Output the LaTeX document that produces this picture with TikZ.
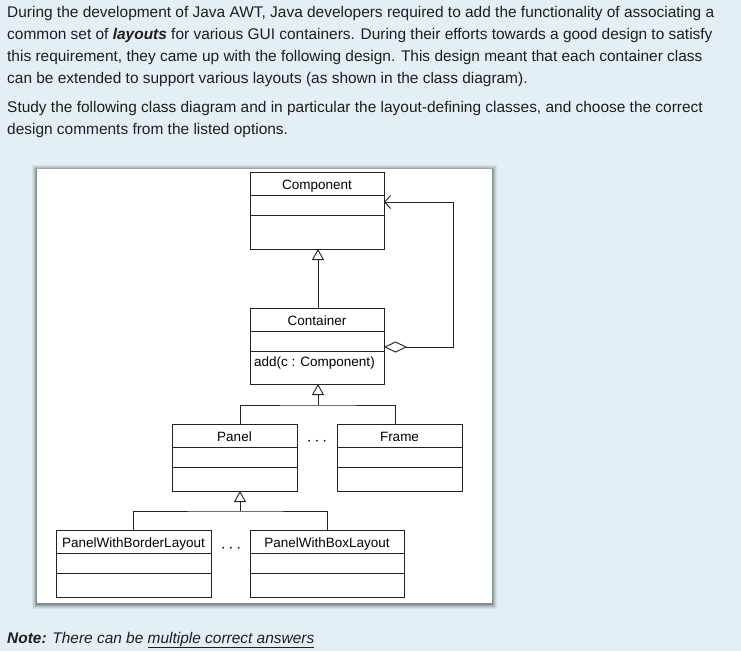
\documentclass[tikz,border=0pt]{standalone}
\usepackage{fontspec}
\setmainfont{Liberation Sans}
\usetikzlibrary{arrows.meta,shadows,calc}
\definecolor{bg}{HTML}{E3EFF5}
\definecolor{txt}{HTML}{1E1E1E}
\definecolor{ln}{HTML}{222222}
\begin{document}
\begin{tikzpicture}[x=1pt,y=-1pt,
  para/.style={anchor=base west,inner sep=0,text=txt,font=\fontsize{15.45}{17}\selectfont},
  cls/.style={draw=ln,line width=0.9pt,fill=white},
  lbl/.style={font=\fontsize{13.5}{14}\selectfont,inner sep=0,anchor=base},
  edge/.style={draw=ln,line width=0.9pt},
  gen/.style={edge,-{Triangle[open,width=12pt,length=11pt]}},
  dots/.style={font=\fontsize{16}{16}\selectfont,inner sep=0}]
\fill[bg] (0,0) rectangle (741,651);
\useasboundingbox (0,0) rectangle (741,651);
\node[para] (p1) at (7,17) {During the development of Java AWT, Java developers required to add the functionality of associating a};
\node[para] (p2) at (7,39) {common set of \textbf{\textit{layouts}} for various GUI containers. During their efforts towards a good design to satisfy};
\node[para] (p3) at (7,61) {this requirement, they came up with the following design. This design meant that each container class};
\node[para] (p4) at (7,83) {can be extended to support various layouts (as shown in the class diagram).};
\node[para] (p5) at (7,112) {Study the following class diagram and in particular the layout-defining classes, and choose the correct};
\node[para] (p6) at (7,134) {design comments from the listed options.};
\node[para] (p7) at (7,643) {\textbf{\textit{Note:}} \textit{There can be \underline{multiple correct answers}}};
\foreach \i/\o in {5/0.05,4/0.07,3/0.09,2/0.12,1/0.16}
  \fill[black,opacity=\o] (37-\i,169-\i+1) rectangle (492+\i,603+\i+1);
\fill[white] (37,169) rectangle (492,603);
\newcommand{\umlclass}[6]{%
  \draw[cls] (#2,#3) rectangle (#4,#5);
  \draw[edge] (#2,#3+23) -- (#4,#3+23);
  \draw[edge] (#2,#3+43) -- (#4,#3+43);
  \node[lbl] (#1-t) at ($(#2,#3+17)!0.5!(#4,#3+17)$) {#6};
}
\umlclass{comp}{250}{172}{384}{249}{Component}
\umlclass{cont}{250}{308}{384}{384}{Container}
\node[lbl,anchor=base west] (addop) at (254,366) {add(c : Component)};
\umlclass{panel}{172}{424}{297}{491}{Panel}
\umlclass{frame}{337}{424}{462}{491}{Frame}
\umlclass{pbl}{56}{530}{211}{597}{PanelWithBorderLayout}
\umlclass{pbox}{250}{530}{404}{597}{PanelWithBoxLayout}
\node[dots] (d1) at (317,442) {$\cdots$};
\node[dots] (d2) at (231,549) {$\cdots$};
\coordinate (compb) at (318,249);
\coordinate (contt) at (318,308);
\coordinate (contb) at (318,384);
\coordinate (panelt) at (240,424);
\coordinate (framet) at (395,424);
\coordinate (panelb) at (240,491);
\coordinate (pblt) at (133,530);
\coordinate (pboxt) at (327,530);
\draw[gen] (contt) -- (compb);
\coordinate (j1) at (318,405);
\coordinate (j2) at (240,511);
\draw[edge] (panelt) |- (j1) -| (framet);
\draw[gen] (j1) -- (contb);
\draw[edge] (pblt) |- (j2) -| (pboxt);
\draw[gen] (j2) -- (panelb);
\coordinate (a1) at (384,347);
\coordinate (a2) at (453,347);
\coordinate (a3) at (453,202);
\coordinate (a4) at (384,202);
\draw[edge,{Diamond[open,width=11pt,length=23pt]}-{Straight Barb[length=6pt,width=13pt]}] (a1) -- (a2) -- (a3) -- (a4);
\end{tikzpicture}
\end{document}
